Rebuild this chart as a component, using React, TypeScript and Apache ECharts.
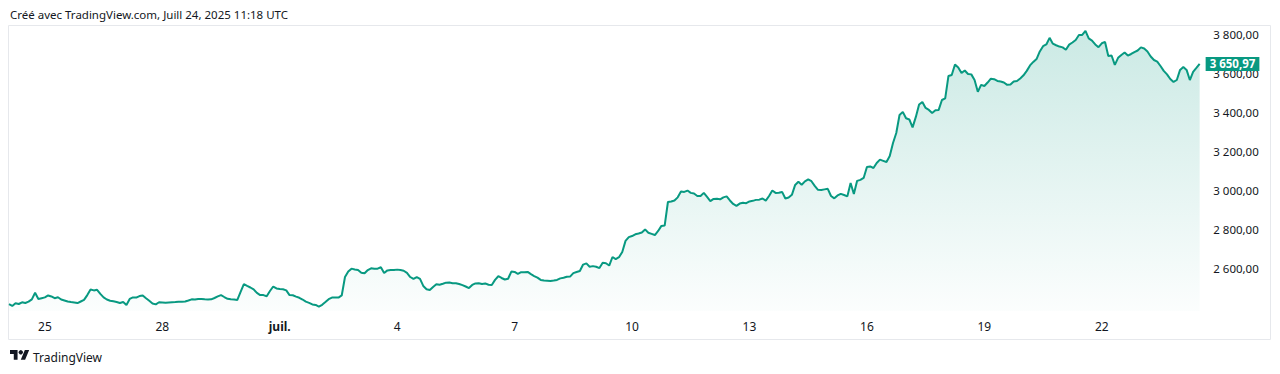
import { useEffect, useRef } from "react";
import * as echarts from "echarts";

const titleText = "Créé avec TradingView.com, Juill 24, 2025 11:18 UTC";
const brandText = "TradingView";

// 2-hour closes, ETH, from 24 Jun 2025 02:00 UTC
const startTime = Date.UTC(2025, 5, 24, 2, 0);
const stepMs = 2 * 3600 * 1000;
const axisMinTime = Date.UTC(2025, 5, 24, 2, 0);
const axisMaxTime = Date.UTC(2025, 6, 24, 12, 50);

const tickTimes = [
  Date.UTC(2025, 5, 25), Date.UTC(2025, 5, 28), Date.UTC(2025, 6, 1), Date.UTC(2025, 6, 4),
  Date.UTC(2025, 6, 7), Date.UTC(2025, 6, 10), Date.UTC(2025, 6, 13), Date.UTC(2025, 6, 16),
  Date.UTC(2025, 6, 19), Date.UTC(2025, 6, 22),
];
const tickLabels = ["25", "28", "juil.", "4", "7", "10", "13", "16", "19", "22"];
const priceTicks = [2600, 2800, 3000, 3200, 3400, 3600, 3800];

const prices = [
  2414, 2405, 2419, 2415, 2424, 2420, 2427, 2439, 2473, 2441,
  2445, 2449, 2459, 2454, 2445, 2450, 2438, 2433, 2428, 2425,
  2423, 2420, 2428, 2436, 2461, 2490, 2485, 2488, 2467, 2449,
  2438, 2432, 2429, 2425, 2420, 2425, 2410, 2441, 2449, 2448,
  2456, 2459, 2445, 2432, 2418, 2413, 2424, 2423, 2422, 2423,
  2424, 2425, 2427, 2427, 2428, 2433, 2439, 2438, 2441, 2441,
  2439, 2438, 2439, 2446, 2454, 2461, 2451, 2442, 2439, 2438,
  2436, 2477, 2517, 2508, 2500, 2490, 2472, 2461, 2461, 2455,
  2482, 2505, 2495, 2492, 2491, 2485, 2461, 2460, 2453, 2447,
  2438, 2427, 2421, 2413, 2410, 2401, 2411, 2425, 2440, 2448,
  2448, 2448, 2459, 2554, 2582, 2597, 2593, 2590, 2576, 2573,
  2590, 2599, 2596, 2597, 2604, 2575, 2588, 2590, 2590, 2592,
  2590, 2586, 2575, 2554, 2544, 2553, 2544, 2508, 2491, 2487,
  2503, 2517, 2514, 2519, 2525, 2526, 2522, 2522, 2518, 2512,
  2505, 2497, 2513, 2521, 2522, 2518, 2521, 2514, 2513, 2539,
  2558, 2549, 2541, 2545, 2582, 2580, 2570, 2579, 2578, 2580,
  2569, 2559, 2551, 2539, 2536, 2535, 2534, 2536, 2539, 2547,
  2550, 2555, 2556, 2574, 2580, 2585, 2618, 2624, 2607, 2610,
  2607, 2600, 2627, 2625, 2613, 2657, 2646, 2656, 2683, 2740,
  2759, 2765, 2774, 2778, 2783, 2799, 2782, 2776, 2770, 2791,
  2817, 2819, 2940, 2943, 2948, 2964, 2994, 2992, 2999, 2987,
  2984, 2971, 2971, 2987, 2966, 2945, 2956, 2957, 2954, 2964,
  2969, 2948, 2930, 2920, 2932, 2936, 2934, 2943, 2946, 2951,
  2952, 2958, 2947, 2971, 2999, 2987, 2988, 2992, 2958, 2963,
  2977, 3028, 3044, 3029, 3046, 3056, 3047, 3023, 3003, 3002,
  3005, 3008, 2971, 2959, 2974, 2982, 2976, 2969, 3038, 2981,
  3049, 3054, 3064, 3120, 3123, 3115, 3141, 3158, 3152, 3146,
  3177, 3244, 3295, 3388, 3404, 3371, 3365, 3324, 3378, 3442,
  3455, 3424, 3414, 3398, 3412, 3414, 3465, 3473, 3589, 3594,
  3648, 3633, 3604, 3617, 3599, 3597, 3568, 3507, 3543, 3537,
  3555, 3575, 3572, 3563, 3560, 3555, 3543, 3545, 3560, 3563,
  3576, 3592, 3615, 3643, 3661, 3676, 3715, 3742, 3751, 3785,
  3755, 3747, 3740, 3736, 3724, 3750, 3761, 3774, 3800, 3800,
  3821, 3782, 3771, 3751, 3737, 3757, 3764, 3692, 3694, 3646,
  3682, 3697, 3710, 3694, 3702, 3712, 3720, 3736, 3730, 3715,
  3689, 3671, 3663, 3640, 3615, 3597, 3573, 3558, 3568, 3620,
  3635, 3620, 3568, 3610, 3630, 3650.97,
];

const TV_LOGO = "M14 22H7V11H0V4h14v18zM28 22h-8l7.5-18h8L28 22z";
echarts.graphic.registerShape("tvlogo", echarts.graphic.extendPath(TV_LOGO, {}));

const FONT = '"Noto Sans", "Open Sans", sans-serif';
const TEXT_COLOR = "#131722";
const GREEN = "#089981";

function frNumber(v: number): string {
  const [intPart, dec] = v.toFixed(2).split(".");
  return intPart.replace(/\B(?=(\d{3})+(?!\d))/g, " ") + "," + dec;
}

export default function App() {
  const ref = useRef<HTMLDivElement>(null);

  useEffect(() => {
    if (!ref.current) return;
    const chart = echarts.init(ref.current, undefined, { renderer: "svg" });
    const data = prices.map((p, i) => [startTime + i * stepMs, p]);
    const logoScale = 0.54;
    const logoX = 10;
    const logoY = 350.1;

    chart.setOption({
      animation: false,
      backgroundColor: "#ffffff",
      grid: { left: 9, right: 79, top: 26, bottom: 63, containLabel: false },
      xAxis: {
        type: "value",
        min: axisMinTime,
        max: axisMaxTime,
        axisLine: { show: false },
        axisTick: { show: false },
        splitLine: { show: false },
        axisLabel: {
          customValues: tickTimes,
          formatter: (v: number) => {
            const idx = tickTimes.indexOf(v);
            const label = idx >= 0 ? tickLabels[idx] : "";
            return label === "juil." ? "{b|" + label + "}" : label;
          },
          color: TEXT_COLOR,
          fontFamily: FONT,
          fontSize: 12,
          margin: 9,
          rich: {
            b: { fontWeight: "bold", fontSize: 12, color: TEXT_COLOR, fontFamily: FONT },
          },
        },
      },
      yAxis: {
        type: "value",
        position: "right",
        min: 2379,
        max: 3846,
        axisLine: { show: false },
        axisTick: { show: false },
        splitLine: { show: false },
        axisLabel: {
          customValues: priceTicks,
          formatter: (v: number) => frNumber(v),
          align: "center",
          margin: 35,
          color: TEXT_COLOR,
          fontFamily: FONT,
          fontSize: 11.5,
        },
      },
      series: [
        {
          type: "line",
          data,
          symbol: "none",
          showSymbol: false,
          lineStyle: { color: GREEN, width: 2 },
          areaStyle: {
            color: new echarts.graphic.LinearGradient(0, 0, 0, 1, [
              { offset: 0, color: "rgba(8,153,129,0.30)" },
              { offset: 1, color: "rgba(8,153,129,0.02)" },
            ]),
          },
          endLabel: {
            show: true,
            formatter: (p: any) => frNumber(p.value[1]),
            color: "#ffffff",
            backgroundColor: GREEN,
            fontWeight: "bold",
            fontFamily: FONT,
            fontSize: 11.5,
            padding: [1, 4, 1, 4],
            distance: 6,
          },
        },
      ],
      graphic: [
        {
          type: "rect",
          silent: true,
          z: -1,
          shape: { x: 8.5, y: 25.5, width: 1262, height: 314 },
          style: { fill: "none", stroke: "#e6e8ec", lineWidth: 1 },
        },
        {
          type: "text",
          x: 10,
          y: 14.5,
          style: {
            text: titleText,
            fill: TEXT_COLOR,
            fontFamily: FONT,
            fontSize: 11.5,
            verticalAlign: "middle",
            align: "left",
          },
        },
        {
          type: "tvlogo",
          x: logoX,
          y: logoY - 4 * logoScale,
          scaleX: logoScale,
          scaleY: logoScale,
          style: { fill: TEXT_COLOR },
        },
        {
          type: "circle",
          shape: { cx: logoX + 20 * logoScale, cy: logoY - 4 * logoScale + 8 * logoScale, r: 4 * logoScale },
          style: { fill: TEXT_COLOR },
        },
        {
          type: "text",
          x: 33,
          y: 357,
          style: {
            text: brandText,
            fill: TEXT_COLOR,
            fontFamily: FONT,
            fontSize: 12,
            verticalAlign: "middle",
            align: "left",
          },
        },
      ],
    });

    return () => chart.dispose();
  }, []);

  return (
    <div
      ref={ref}
      style={{ position: "absolute", left: 0, top: 0, width: 1280, height: 374, background: "#fff" }}
    />
  );
}
